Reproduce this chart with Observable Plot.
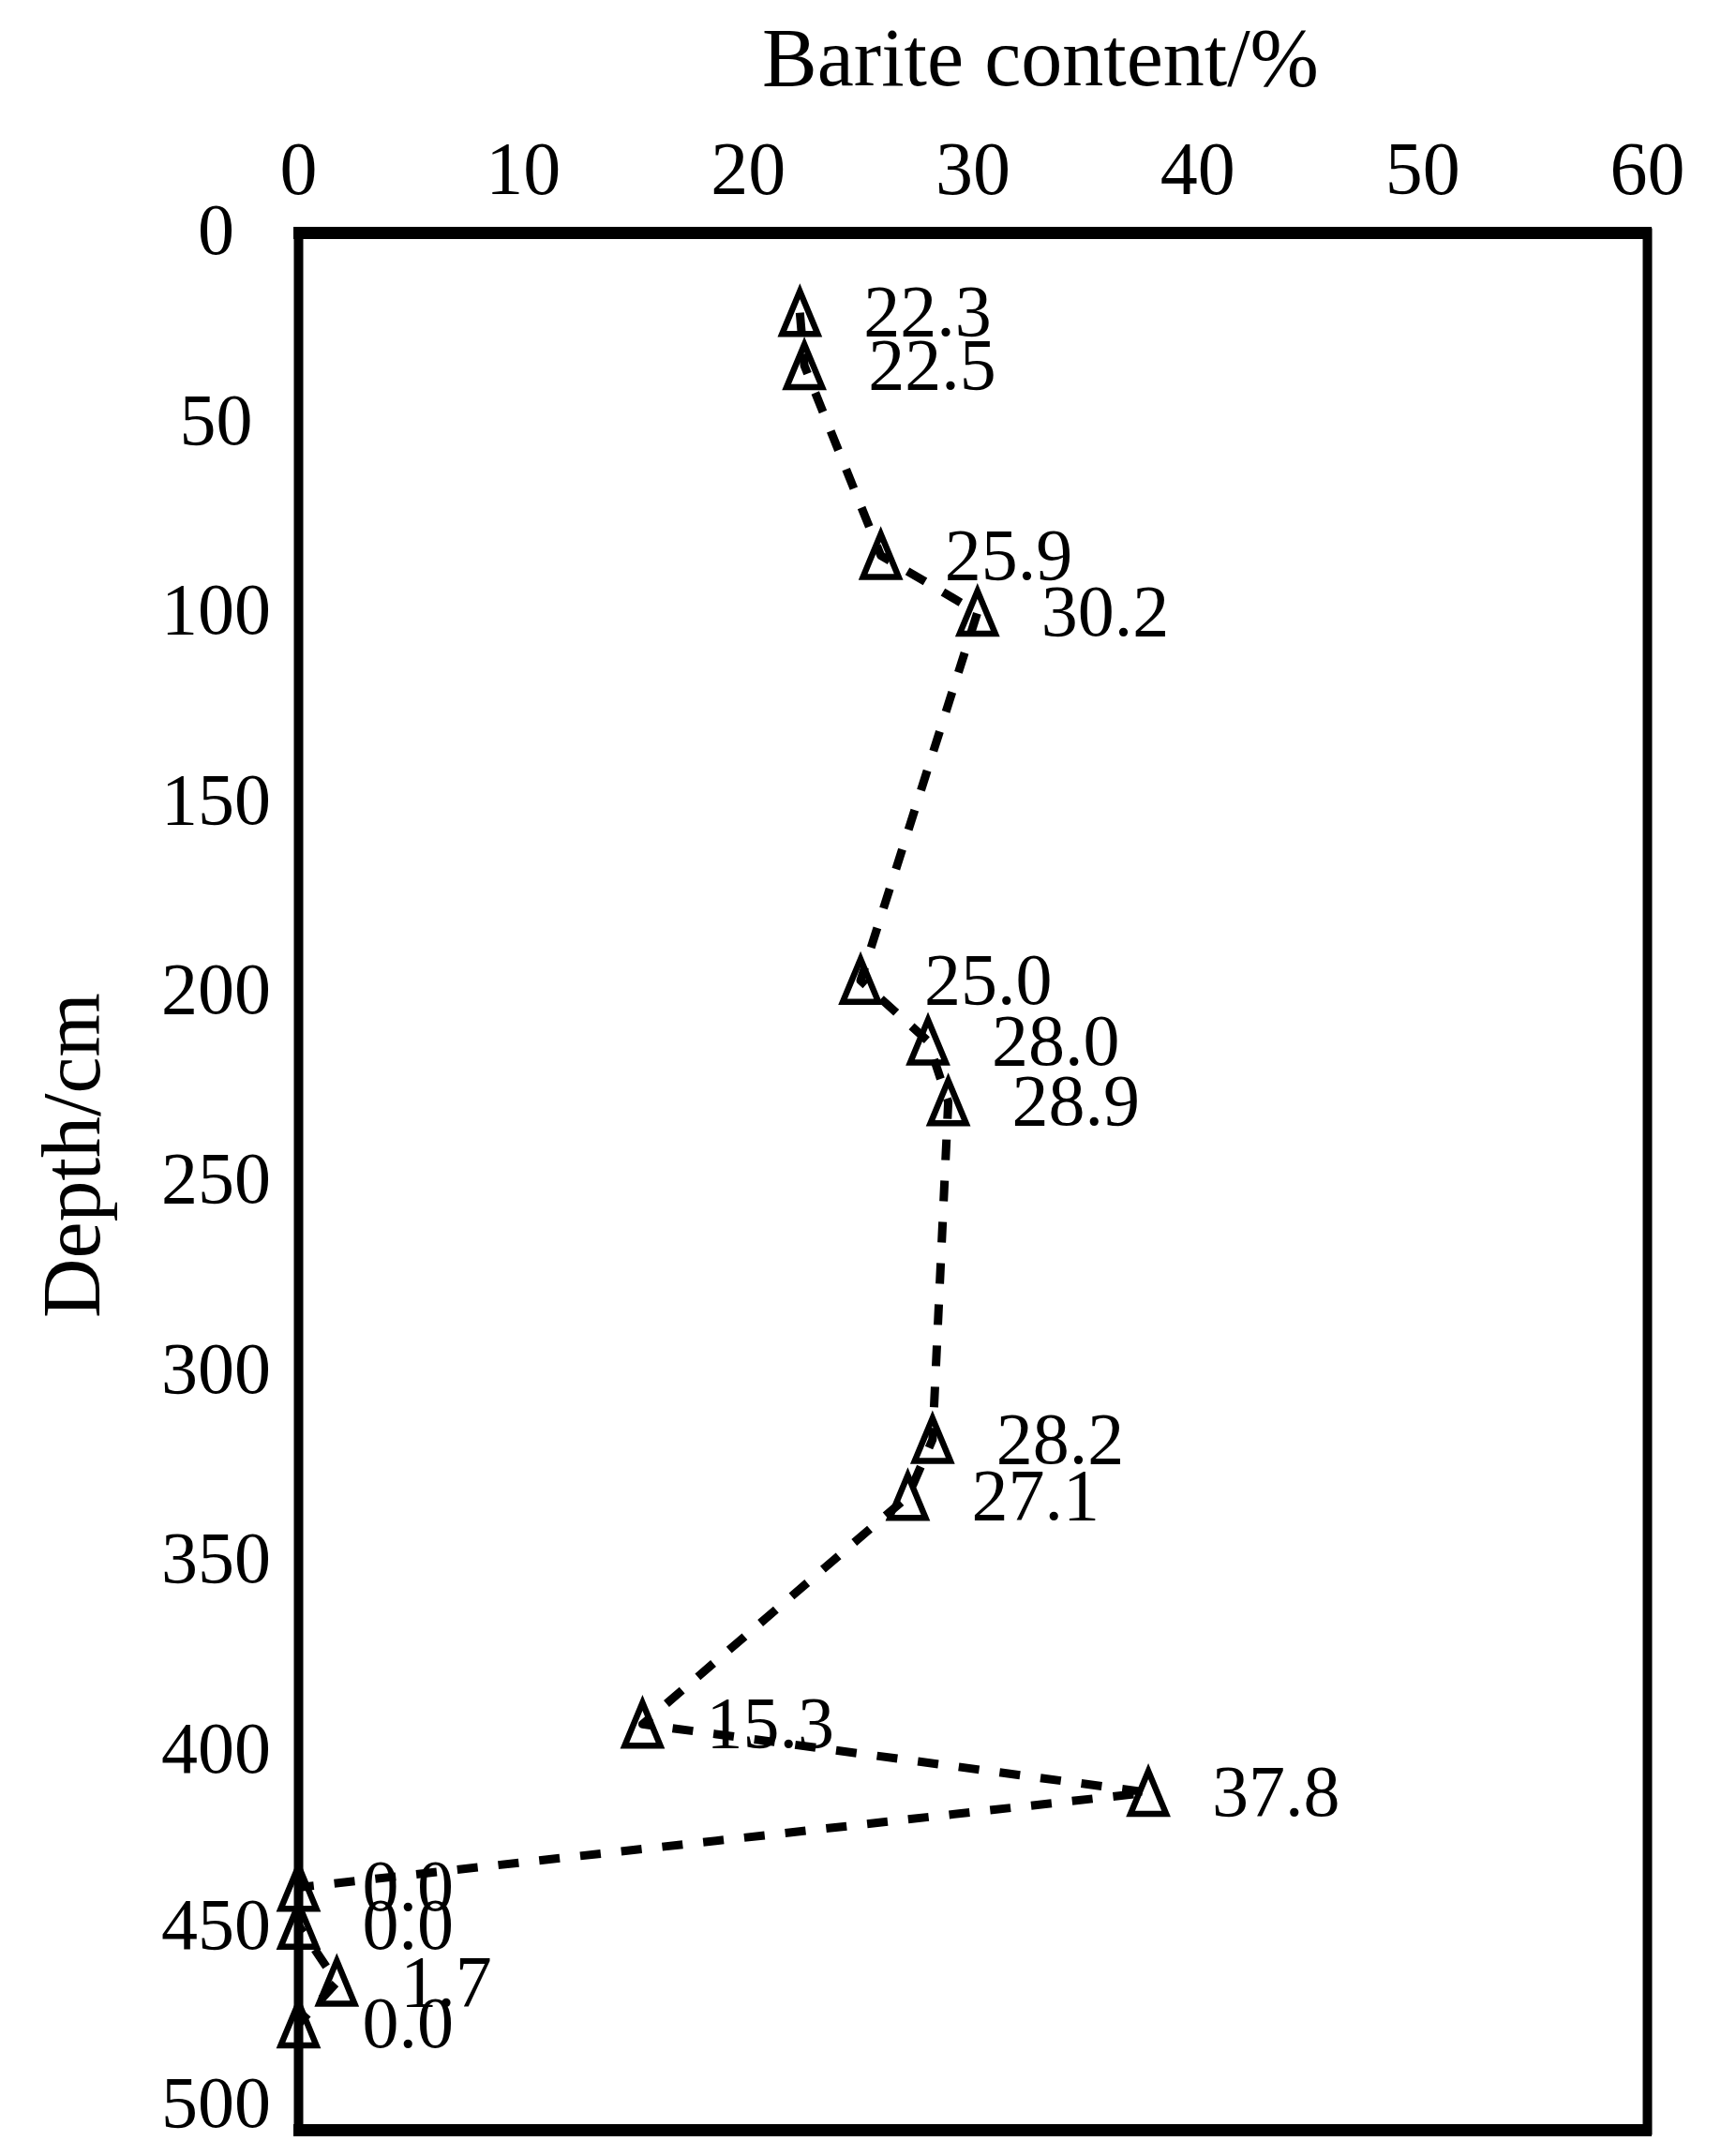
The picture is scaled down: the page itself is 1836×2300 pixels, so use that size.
<!DOCTYPE html>
<html>
<head>
<meta charset="utf-8">
<script src="https://cdn.jsdelivr.net/npm/d3@7"></script>
<script src="https://cdn.jsdelivr.net/npm/@observablehq/plot@0.6"></script>
<style>
  html, body { margin: 0; padding: 0; background: #ffffff; }
  #chart { width: 1836px; height: 2300px; }
</style>
</head>
<body>
<div id="chart"></div>
<script>
// Sampling depths (cm) and barite content (%)
const depth  = [21, 35, 85, 100, 197, 213, 229, 318, 333, 393, 411, 436, 446, 461, 472];
const barite = [22.3, 22.5, 25.9, 30.2, 25.0, 28.0, 28.9, 28.2, 27.1, 15.3, 37.8, 0.0, 0.0, 1.7, 0.0];
const valueLabels = ["22.3", "22.5", "25.9", "30.2", "25.0", "28.0", "28.9", "28.2", "27.1", "15.3", "37.8", "0.0", "0.0", "1.7", "0.0"];

const xTicks = [0, 10, 20, 30, 40, 50, 60];
const yTicks = [0, 50, 100, 150, 200, 250, 300, 350, 400, 450, 500];

const xTitle = "Barite content/%";
const yTitle = "Depth/cm";

const rows = depth.map((d, i) => ({depth: d, barite: barite[i], label: valueLabels[i]}));

// open triangle marker, slightly taller than wide
const tallTriangle = {
  draw(context, size) {
    const r = Math.sqrt(size / Math.PI);
    const hw = r, hh = r * 1.2;
    context.moveTo(0, -hh);
    context.lineTo(hw, hh);
    context.lineTo(-hw, hh);
    context.closePath();
  }
};

const font = "'Liberation Serif', 'Times New Roman', serif";
const yAxisOpts = {anchor: "left", tickSize: 0, tickPadding: 88, textAnchor: "middle", fontSize: 78, label: null};

const chart = Plot.plot({
  width: 1836,
  height: 2300,
  marginLeft: 318,
  marginRight: 79,
  marginTop: 248,
  marginBottom: 28,
  style: {fontFamily: font, color: "#000", background: "#fff"},
  x: {domain: [0, 60]},
  y: {domain: [0, 500], reverse: true},
  marks: [
    Plot.axisX({anchor: "top", ticks: xTicks, tickSize: 0, tickPadding: 42, fontSize: 80, label: null}),
    Plot.axisY({...yAxisOpts, ticks: yTicks.filter(t => t <= 400), dy: -2}),
    Plot.axisY({...yAxisOpts, ticks: yTicks.filter(t => t === 450), dy: -16}),
    Plot.axisY({...yAxisOpts, ticks: yTicks.filter(t => t === 500), dy: -28}),
    Plot.text([xTitle], {frameAnchor: "top", text: d => d, textAnchor: "middle", dx: 72, dy: -158, lineAnchor: "bottom", fontSize: 88, fill: "#000"}),
    Plot.text([yTitle], {frameAnchor: "left", text: d => d, rotate: -90, textAnchor: "middle", dx: -241, dy: -28, lineAnchor: "middle", fontSize: 88, fill: "#000"}),
    Plot.line(rows, {x: "barite", y: "depth", stroke: "#000", strokeWidth: 9, strokeDasharray: "22,22", strokeLinecap: "butt"}),
    Plot.dot(rows, {x: "barite", y: "depth", symbol: tallTriangle, r: 19, stroke: "#000", strokeWidth: 6.5, fill: "none"}),
    Plot.text(rows, {x: "barite", y: "depth", text: "label", dx: 68, textAnchor: "start", lineAnchor: "middle", fontSize: 78, fill: "#000"}),
    Plot.frame({stroke: "#000", strokeWidth: 10}),
    Plot.ruleY([0, 500], {stroke: "#000", strokeWidth: 13, insetLeft: -5, insetRight: -5})
  ]
});

document.getElementById("chart").appendChild(chart);
</script>
</body>
</html>
